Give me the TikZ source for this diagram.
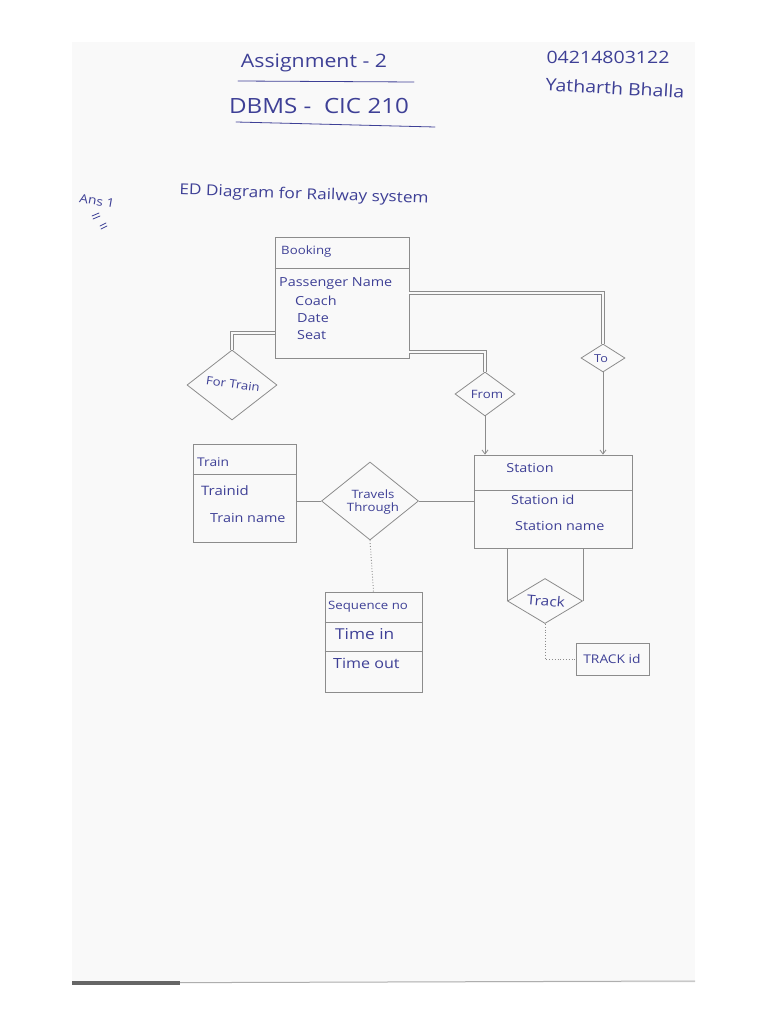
\documentclass[tikz,border=0pt]{standalone}
\usepackage{fontspec}
\setmainfont{Open Sans}[FakeStretch=1.15]
\usetikzlibrary{shapes.geometric,arrows.meta}
\definecolor{ink}{RGB}{62,64,150}
\definecolor{pen}{RGB}{140,140,140}
\definecolor{paper}{RGB}{249,249,249}
\newcommand{\hs}[1]{\fontsize{#1}{#1}\selectfont}
\tikzset{
  hand/.style={text=ink, inner sep=0pt, align=center},
  ent/.style={draw=pen, line width=0.8pt, rectangle, inner sep=0pt},
  rel/.style={draw=pen, line width=0.8pt, diamond, inner sep=0pt},
  conn/.style={draw=pen, line width=0.8pt},
  dbl/.style={draw=pen, line width=0.6pt, double=paper, double distance=2.2pt},
  arr/.style={conn, -{Straight Barb[length=4pt,width=6pt]}},
  dots/.style={conn, dotted, line width=1pt},
  inkl/.style={draw=ink, line width=0.8pt, line cap=round}
}
\begin{document}
\begin{tikzpicture}[x=1pt,y=-1pt]
\useasboundingbox (0,0) rectangle (768,1024);
\fill[white] (0,0) rectangle (768,1024);
\fill[paper] (72,42) rectangle (695,983);
\draw[pen!70, line width=1pt] (72,983) -- (695,981);
\fill[black!60] (72,981) rectangle (180,985);

% header texts
\node[hand, font=\hs{18.5}] (t1) at (314,63) {Assignment - 2};
\draw[inkl] (238,81) -- (414,82);
\node[hand, font=\hs{21}] (t2) at (319,106) {DBMS -\ \ CIC 210};
\draw[inkl] (236,122) -- (435,127);
\node[hand, font=\hs{17}] (roll) at (608,57) {04214803122};
\node[hand, font=\hs{17}, rotate=-3] (name) at (615,88) {Yatharth Bhalla};
\node[hand, font=\hs{12}, rotate=-10] (ans) at (97,201) {Ans 1};
\draw[inkl] (92,216) -- (99,213);
\draw[inkl] (93,219) -- (100,216);
\draw[inkl] (100,226) -- (106,223);
\draw[inkl] (101,229) -- (107,226);
\node[hand, font=\hs{15}, rotate=-2] (head) at (304,195) {ED Diagram for Railway system};

% Booking
\node[ent, minimum width=134, minimum height=121] (book) at (342,297.5) {};
\draw[conn] (book.west |- 0,268) -- (book.east |- 0,268);
\node[hand, font=\hs{11.5}, anchor=west] (bookT) at (281,252) {Booking};
\node[hand, font=\hs{12.5}, anchor=west] (b1) at (279,284) {Passenger Name};
\node[hand, font=\hs{12.5}, anchor=west] (b2) at (295,301) {Coach};
\node[hand, font=\hs{12.5}, anchor=west] (b3) at (297,318) {Date};
\node[hand, font=\hs{12.5}, anchor=west] (b4) at (297,335) {Seat};

% relationships off Booking
\node[rel, minimum width=90, minimum height=70] (ft) at (232,385) {};
\node[hand, font=\hs{11.5}, rotate=-8] (ftT) at (233,384) {For Train};
\node[rel, minimum width=60, minimum height=44] (from) at (485,394) {};
\node[hand, font=\hs{11.5}] (fromT) at (487,394) {From};
\node[rel, minimum width=44, minimum height=28] (to) at (603,358) {};
\node[hand, font=\hs{11}] (toT) at (601,359) {To};

% Station
\node[ent, minimum width=158, minimum height=93] (st) at (553,501.5) {};
\draw[conn] (st.west |- 0,490) -- (st.east |- 0,490);
\node[hand, font=\hs{12.5}] (stT) at (530,468) {Station};
\node[hand, font=\hs{12.5}, anchor=west] (s1) at (511,500) {Station id};
\node[hand, font=\hs{12.5}, anchor=west] (s2) at (515,526) {Station name};

% Train
\node[ent, minimum width=103, minimum height=98] (tr) at (244.5,493) {};
\draw[conn] (tr.west |- 0,474) -- (tr.east |- 0,474);
\node[hand, font=\hs{12}, anchor=west] (trT) at (197,462) {Train};
\node[hand, font=\hs{13}, anchor=west] (t1a) at (201,491) {Trainid};
\node[hand, font=\hs{12.5}, anchor=west] (t2a) at (210,518) {Train name};

% Travels Through
\node[rel, minimum width=97, minimum height=78] (tt) at (370,501) {};
\node[hand, font=\hs{11.5}] (ttT) at (373,502) {Travels\\[2pt]Through};

% Sequence box
\node[ent, minimum width=97, minimum height=100] (seq) at (373.5,642) {};
\draw[conn] (seq.west |- 0,622) -- (seq.east |- 0,622);
\draw[conn] (seq.west |- 0,651) -- (seq.east |- 0,651);
\node[hand, font=\hs{11.5}, anchor=west] (q1) at (328,607) {Sequence no};
\node[hand, font=\hs{15}, anchor=west] (q2) at (335,634) {Time in};
\node[hand, font=\hs{14}, anchor=west] (q3) at (333,663) {Time out};

% Track
\node[rel, minimum width=75, minimum height=45] (track) at (545,601) {};
\node[hand, font=\hs{13.5}, rotate=-5] (trkT) at (546,601) {Track};
\node[ent, minimum width=73, minimum height=32] (tid) at (612.5,659) {};
\node[hand, font=\hs{12}] (tidT) at (612,659) {TRACK id};

% connectors
\draw[dbl] (book.west |- 0,333) -| (ft.north);
\draw[dbl] (book.east |- 0,352) -| (from.north);
\draw[dbl] (book.east |- 0,293) -| (to.north);
\draw[arr] (from.south) -- (from.south |- st.north);
\draw[arr] (to.south) -- (to.south |- st.north);
\draw[conn] (tt.west) -- (tt.west -| tr.east);
\draw[conn] (tt.east) -- (tt.east -| st.west);
\draw[dots] (tt.south) -- (seq.north);
\draw[conn] (track.west) -- (track.west |- st.south);
\draw[conn] (track.east) -- (track.east |- st.south);
\draw[dots] (track.south) |- (tid.west);
\end{tikzpicture}
\end{document}
